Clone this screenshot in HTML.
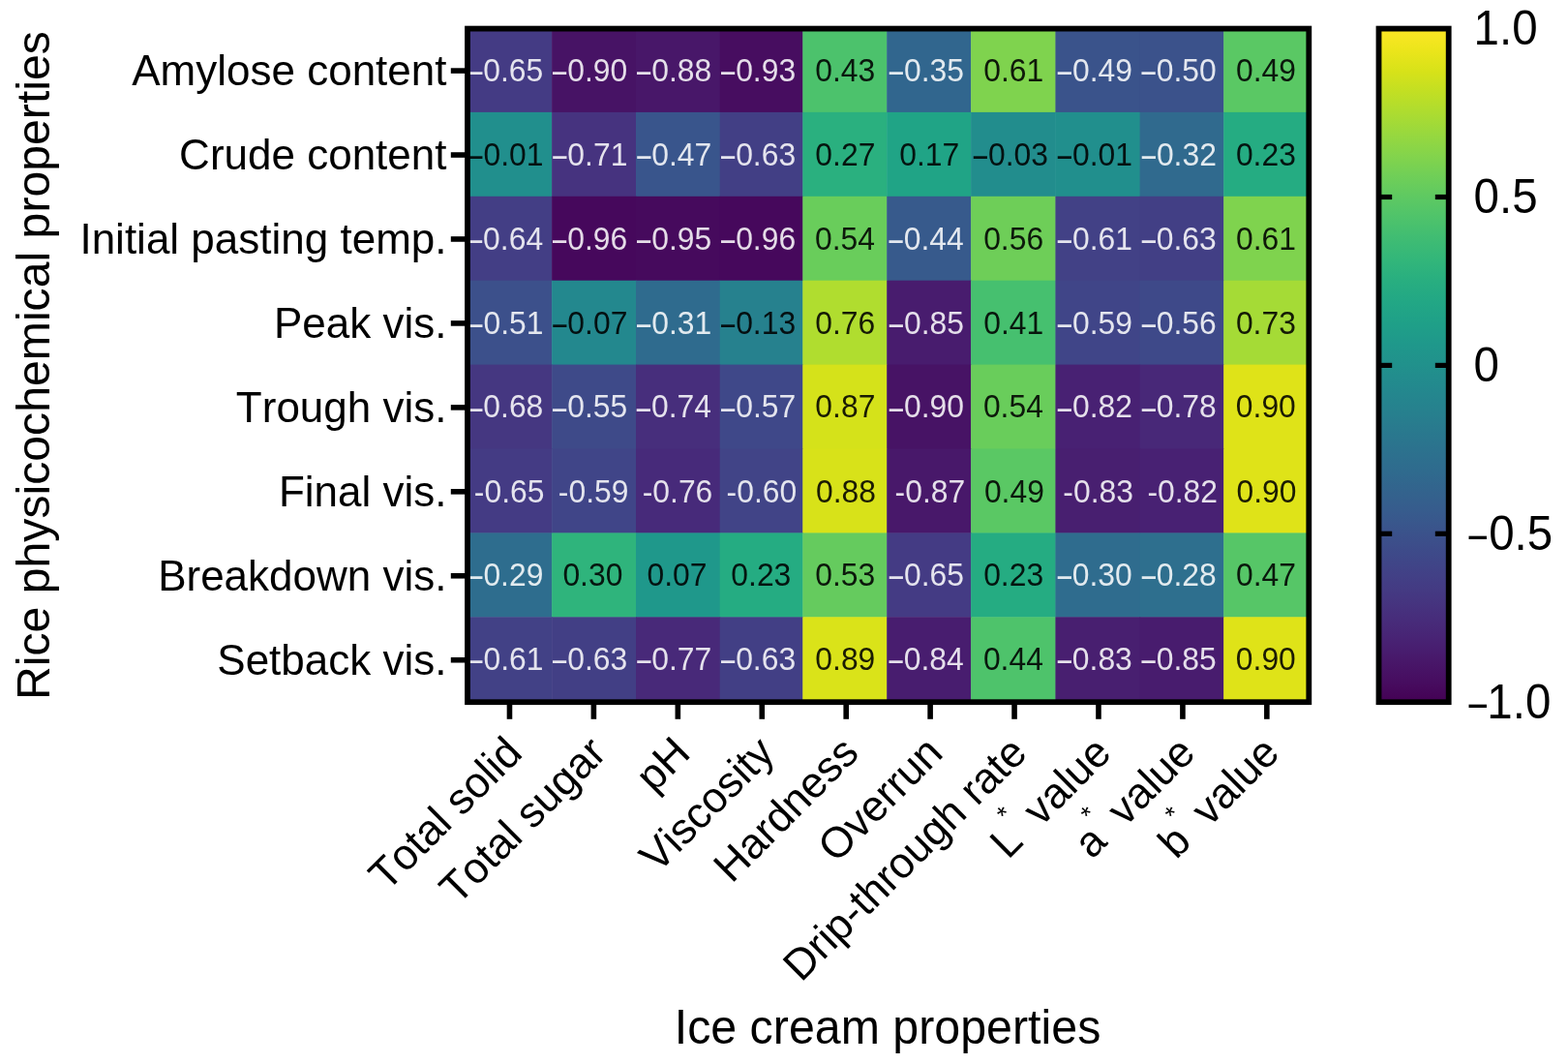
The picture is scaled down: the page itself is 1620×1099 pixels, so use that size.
<!DOCTYPE html>
<html><head><meta charset="utf-8"><title>Heatmap</title>
<style>html,body{margin:0;padding:0;background:#fff;overflow:hidden;}svg{display:block;}text{font-kerning:none;}</style>
</head><body>
<svg width="1620" height="1099" viewBox="0 0 1620 1099">
<defs><linearGradient id="vg" x1="0" y1="1" x2="0" y2="0">
<stop offset="0.0000" stop-color="#440154"/>
<stop offset="0.0312" stop-color="#470d60"/>
<stop offset="0.0625" stop-color="#48186a"/>
<stop offset="0.0938" stop-color="#482374"/>
<stop offset="0.1250" stop-color="#472d7b"/>
<stop offset="0.1562" stop-color="#453781"/>
<stop offset="0.1875" stop-color="#424086"/>
<stop offset="0.2188" stop-color="#3e4989"/>
<stop offset="0.2500" stop-color="#3b528b"/>
<stop offset="0.2812" stop-color="#375b8d"/>
<stop offset="0.3125" stop-color="#33638d"/>
<stop offset="0.3438" stop-color="#2f6b8e"/>
<stop offset="0.3750" stop-color="#2c728e"/>
<stop offset="0.4062" stop-color="#297a8e"/>
<stop offset="0.4375" stop-color="#26828e"/>
<stop offset="0.4688" stop-color="#23898e"/>
<stop offset="0.5000" stop-color="#21918c"/>
<stop offset="0.5312" stop-color="#1f988b"/>
<stop offset="0.5625" stop-color="#1fa088"/>
<stop offset="0.5938" stop-color="#22a785"/>
<stop offset="0.6250" stop-color="#28ae80"/>
<stop offset="0.6562" stop-color="#32b67a"/>
<stop offset="0.6875" stop-color="#3fbc73"/>
<stop offset="0.7188" stop-color="#4ec36b"/>
<stop offset="0.7500" stop-color="#5ec962"/>
<stop offset="0.7812" stop-color="#70cf57"/>
<stop offset="0.8125" stop-color="#84d44b"/>
<stop offset="0.8438" stop-color="#98d83e"/>
<stop offset="0.8750" stop-color="#addc30"/>
<stop offset="0.9062" stop-color="#c2df23"/>
<stop offset="0.9375" stop-color="#d8e219"/>
<stop offset="0.9688" stop-color="#ece51b"/>
<stop offset="1.0000" stop-color="#fde725"/>
</linearGradient></defs>
<rect width="1620" height="1099" fill="#fff"/>
<rect x="483.00" y="29.60" width="87.60" height="86.80" fill="#443b84"/>
<rect x="570.10" y="29.60" width="87.40" height="86.80" fill="#471365"/>
<rect x="657.00" y="29.60" width="87.20" height="86.80" fill="#481769"/>
<rect x="743.70" y="29.60" width="86.10" height="86.80" fill="#470d60"/>
<rect x="829.30" y="29.60" width="87.40" height="86.80" fill="#4cc26c"/>
<rect x="916.20" y="29.60" width="87.40" height="86.80" fill="#31668e"/>
<rect x="1003.10" y="29.60" width="87.80" height="86.80" fill="#7fd34e"/>
<rect x="1090.40" y="29.60" width="87.70" height="86.80" fill="#3a538b"/>
<rect x="1177.60" y="29.60" width="87.10" height="86.80" fill="#3b528b"/>
<rect x="1264.20" y="29.60" width="88.60" height="86.80" fill="#5ac864"/>
<rect x="483.00" y="115.90" width="87.60" height="87.40" fill="#218f8d"/>
<rect x="570.10" y="115.90" width="87.40" height="87.40" fill="#46337f"/>
<rect x="657.00" y="115.90" width="87.20" height="87.40" fill="#39558c"/>
<rect x="743.70" y="115.90" width="86.10" height="87.40" fill="#423f85"/>
<rect x="829.30" y="115.90" width="87.40" height="87.40" fill="#2ab07f"/>
<rect x="916.20" y="115.90" width="87.40" height="87.40" fill="#20a486"/>
<rect x="1003.10" y="115.90" width="87.80" height="87.40" fill="#228d8d"/>
<rect x="1090.40" y="115.90" width="87.70" height="87.40" fill="#218f8d"/>
<rect x="1177.60" y="115.90" width="87.10" height="87.40" fill="#306a8e"/>
<rect x="1264.20" y="115.90" width="88.60" height="87.40" fill="#25ac82"/>
<rect x="483.00" y="202.80" width="87.60" height="87.40" fill="#433e85"/>
<rect x="570.10" y="202.80" width="87.40" height="87.40" fill="#46085c"/>
<rect x="657.00" y="202.80" width="87.20" height="87.40" fill="#460a5d"/>
<rect x="743.70" y="202.80" width="86.10" height="87.40" fill="#46085c"/>
<rect x="829.30" y="202.80" width="87.40" height="87.40" fill="#69cd5b"/>
<rect x="916.20" y="202.80" width="87.40" height="87.40" fill="#375a8c"/>
<rect x="1003.10" y="202.80" width="87.80" height="87.40" fill="#6ece58"/>
<rect x="1090.40" y="202.80" width="87.70" height="87.40" fill="#424186"/>
<rect x="1177.60" y="202.80" width="87.10" height="87.40" fill="#423f85"/>
<rect x="1264.20" y="202.80" width="88.60" height="87.40" fill="#7fd34e"/>
<rect x="483.00" y="289.70" width="87.60" height="87.40" fill="#3c508b"/>
<rect x="570.10" y="289.70" width="87.40" height="87.40" fill="#23888e"/>
<rect x="657.00" y="289.70" width="87.20" height="87.40" fill="#2f6b8e"/>
<rect x="743.70" y="289.70" width="86.10" height="87.40" fill="#26818e"/>
<rect x="829.30" y="289.70" width="87.40" height="87.40" fill="#b0dd2f"/>
<rect x="916.20" y="289.70" width="87.40" height="87.40" fill="#481c6e"/>
<rect x="1003.10" y="289.70" width="87.80" height="87.40" fill="#46c06f"/>
<rect x="1090.40" y="289.70" width="87.70" height="87.40" fill="#404588"/>
<rect x="1177.60" y="289.70" width="87.10" height="87.40" fill="#3e4989"/>
<rect x="1264.20" y="289.70" width="88.60" height="87.40" fill="#a5db36"/>
<rect x="483.00" y="376.60" width="87.60" height="87.40" fill="#453781"/>
<rect x="570.10" y="376.60" width="87.40" height="87.40" fill="#3e4a89"/>
<rect x="657.00" y="376.60" width="87.20" height="87.40" fill="#472e7c"/>
<rect x="743.70" y="376.60" width="86.10" height="87.40" fill="#3f4889"/>
<rect x="829.30" y="376.60" width="87.40" height="87.40" fill="#d5e21a"/>
<rect x="916.20" y="376.60" width="87.40" height="87.40" fill="#471365"/>
<rect x="1003.10" y="376.60" width="87.80" height="87.40" fill="#69cd5b"/>
<rect x="1090.40" y="376.60" width="87.70" height="87.40" fill="#482173"/>
<rect x="1177.60" y="376.60" width="87.10" height="87.40" fill="#482878"/>
<rect x="1264.20" y="376.60" width="88.60" height="87.40" fill="#dfe318"/>
<rect x="483.00" y="463.50" width="87.60" height="87.40" fill="#443b84"/>
<rect x="570.10" y="463.50" width="87.40" height="87.40" fill="#404588"/>
<rect x="657.00" y="463.50" width="87.20" height="87.40" fill="#472a7a"/>
<rect x="743.70" y="463.50" width="86.10" height="87.40" fill="#414487"/>
<rect x="829.30" y="463.50" width="87.40" height="87.40" fill="#d8e219"/>
<rect x="916.20" y="463.50" width="87.40" height="87.40" fill="#48186a"/>
<rect x="1003.10" y="463.50" width="87.80" height="87.40" fill="#5ac864"/>
<rect x="1090.40" y="463.50" width="87.70" height="87.40" fill="#481f70"/>
<rect x="1177.60" y="463.50" width="87.10" height="87.40" fill="#482173"/>
<rect x="1264.20" y="463.50" width="88.60" height="87.40" fill="#dfe318"/>
<rect x="483.00" y="550.40" width="87.60" height="87.40" fill="#2e6d8e"/>
<rect x="570.10" y="550.40" width="87.40" height="87.40" fill="#2fb47c"/>
<rect x="657.00" y="550.40" width="87.20" height="87.40" fill="#1f988b"/>
<rect x="743.70" y="550.40" width="86.10" height="87.40" fill="#25ac82"/>
<rect x="829.30" y="550.40" width="87.40" height="87.40" fill="#65cb5e"/>
<rect x="916.20" y="550.40" width="87.40" height="87.40" fill="#443b84"/>
<rect x="1003.10" y="550.40" width="87.80" height="87.40" fill="#25ac82"/>
<rect x="1090.40" y="550.40" width="87.70" height="87.40" fill="#2f6c8e"/>
<rect x="1177.60" y="550.40" width="87.10" height="87.40" fill="#2e6f8e"/>
<rect x="1264.20" y="550.40" width="88.60" height="87.40" fill="#56c667"/>
<rect x="483.00" y="637.30" width="87.60" height="88.40" fill="#424186"/>
<rect x="570.10" y="637.30" width="87.40" height="88.40" fill="#423f85"/>
<rect x="657.00" y="637.30" width="87.20" height="88.40" fill="#482979"/>
<rect x="743.70" y="637.30" width="86.10" height="88.40" fill="#423f85"/>
<rect x="829.30" y="637.30" width="87.40" height="88.40" fill="#dae319"/>
<rect x="916.20" y="637.30" width="87.40" height="88.40" fill="#481d6f"/>
<rect x="1003.10" y="637.30" width="87.80" height="88.40" fill="#4ec36b"/>
<rect x="1090.40" y="637.30" width="87.70" height="88.40" fill="#481f70"/>
<rect x="1177.60" y="637.30" width="87.10" height="88.40" fill="#481c6e"/>
<rect x="1264.20" y="637.30" width="88.60" height="88.40" fill="#dfe318"/>
<g font-family="Liberation Sans, Arial, sans-serif">
<text transform="translate(0,83.98) scale(1,1.030)" fill="#e5e4ee" font-size="33.00"><tspan x="484.17" dy="2.3" font-size="40" textLength="14.20" lengthAdjust="spacingAndGlyphs">–</tspan><tspan x="499.32" dy="-2.3" textLength="61.98" lengthAdjust="spacingAndGlyphs">0.65</tspan></text>
<text transform="translate(0,83.98) scale(1,1.030)" fill="#e5dee9" font-size="33.00"><tspan x="571.05" dy="2.3" font-size="40" textLength="14.20" lengthAdjust="spacingAndGlyphs">–</tspan><tspan x="586.21" dy="-2.3" textLength="61.98" lengthAdjust="spacingAndGlyphs">0.90</tspan></text>
<text transform="translate(0,83.98) scale(1,1.030)" fill="#e5dfea" font-size="33.00"><tspan x="658.05" dy="2.3" font-size="40" textLength="14.20" lengthAdjust="spacingAndGlyphs">–</tspan><tspan x="673.21" dy="-2.3" textLength="61.98" lengthAdjust="spacingAndGlyphs">0.88</tspan></text>
<text transform="translate(0,83.98) scale(1,1.030)" fill="#e5dde9" font-size="33.00"><tspan x="744.99" dy="2.3" font-size="40" textLength="14.20" lengthAdjust="spacingAndGlyphs">–</tspan><tspan x="760.14" dy="-2.3" textLength="61.98" lengthAdjust="spacingAndGlyphs">0.93</tspan></text>
<text transform="translate(0,83.98) scale(1,1.030)" fill="#09170d" font-size="33.00"><tspan x="842.27" textLength="61.98" lengthAdjust="spacingAndGlyphs">0.43</tspan></text>
<text transform="translate(0,83.98) scale(1,1.030)" fill="#e2eaef" font-size="33.00"><tspan x="918.82" dy="2.3" font-size="40" textLength="14.20" lengthAdjust="spacingAndGlyphs">–</tspan><tspan x="933.97" dy="-2.3" textLength="61.98" lengthAdjust="spacingAndGlyphs">0.35</tspan></text>
<text transform="translate(0,83.98) scale(1,1.030)" fill="#0f1909" font-size="33.00"><tspan x="1016.21" textLength="61.98" lengthAdjust="spacingAndGlyphs">0.61</tspan></text>
<text transform="translate(0,83.98) scale(1,1.030)" fill="#e3e7ef" font-size="33.00"><tspan x="1092.76" dy="2.3" font-size="40" textLength="14.20" lengthAdjust="spacingAndGlyphs">–</tspan><tspan x="1107.92" dy="-2.3" textLength="61.98" lengthAdjust="spacingAndGlyphs">0.49</tspan></text>
<text transform="translate(0,83.98) scale(1,1.030)" fill="#e4e7ef" font-size="33.00"><tspan x="1179.56" dy="2.3" font-size="40" textLength="14.20" lengthAdjust="spacingAndGlyphs">–</tspan><tspan x="1194.72" dy="-2.3" textLength="61.98" lengthAdjust="spacingAndGlyphs">0.50</tspan></text>
<text transform="translate(0,83.98) scale(1,1.030)" fill="#0b180c" font-size="33.00"><tspan x="1276.98" textLength="61.98" lengthAdjust="spacingAndGlyphs">0.49</tspan></text>
<text transform="translate(0,170.83) scale(1,1.030)" fill="#041111" font-size="33.00"><tspan x="484.27" dy="2.3" font-size="40" textLength="14.20" lengthAdjust="spacingAndGlyphs">–</tspan><tspan x="499.43" dy="-2.3" textLength="61.98" lengthAdjust="spacingAndGlyphs">0.01</tspan></text>
<text transform="translate(0,170.83) scale(1,1.030)" fill="#e5e2ed" font-size="33.00"><tspan x="571.20" dy="2.3" font-size="40" textLength="14.20" lengthAdjust="spacingAndGlyphs">–</tspan><tspan x="586.36" dy="-2.3" textLength="61.98" lengthAdjust="spacingAndGlyphs">0.71</tspan></text>
<text transform="translate(0,170.83) scale(1,1.030)" fill="#e3e7ef" font-size="33.00"><tspan x="658.16" dy="2.3" font-size="40" textLength="14.20" lengthAdjust="spacingAndGlyphs">–</tspan><tspan x="673.31" dy="-2.3" textLength="61.98" lengthAdjust="spacingAndGlyphs">0.47</tspan></text>
<text transform="translate(0,170.83) scale(1,1.030)" fill="#e5e4ee" font-size="33.00"><tspan x="744.99" dy="2.3" font-size="40" textLength="14.20" lengthAdjust="spacingAndGlyphs">–</tspan><tspan x="760.14" dy="-2.3" textLength="61.98" lengthAdjust="spacingAndGlyphs">0.63</tspan></text>
<text transform="translate(0,170.83) scale(1,1.030)" fill="#05150f" font-size="33.00"><tspan x="842.37" textLength="61.98" lengthAdjust="spacingAndGlyphs">0.27</tspan></text>
<text transform="translate(0,170.83) scale(1,1.030)" fill="#041410" font-size="33.00"><tspan x="929.30" textLength="61.98" lengthAdjust="spacingAndGlyphs">0.17</tspan></text>
<text transform="translate(0,170.83) scale(1,1.030)" fill="#041111" font-size="33.00"><tspan x="1005.78" dy="2.3" font-size="40" textLength="14.20" lengthAdjust="spacingAndGlyphs">–</tspan><tspan x="1020.93" dy="-2.3" textLength="61.98" lengthAdjust="spacingAndGlyphs">0.03</tspan></text>
<text transform="translate(0,170.83) scale(1,1.030)" fill="#041111" font-size="33.00"><tspan x="1092.78" dy="2.3" font-size="40" textLength="14.20" lengthAdjust="spacingAndGlyphs">–</tspan><tspan x="1107.94" dy="-2.3" textLength="61.98" lengthAdjust="spacingAndGlyphs">0.01</tspan></text>
<text transform="translate(0,170.83) scale(1,1.030)" fill="#e2eaef" font-size="33.00"><tspan x="1179.74" dy="2.3" font-size="40" textLength="14.20" lengthAdjust="spacingAndGlyphs">–</tspan><tspan x="1194.89" dy="-2.3" textLength="61.98" lengthAdjust="spacingAndGlyphs">0.32</tspan></text>
<text transform="translate(0,170.83) scale(1,1.030)" fill="#041510" font-size="33.00"><tspan x="1276.92" textLength="61.98" lengthAdjust="spacingAndGlyphs">0.23</tspan></text>
<text transform="translate(0,257.68) scale(1,1.030)" fill="#e5e4ee" font-size="33.00"><tspan x="483.96" dy="2.3" font-size="40" textLength="14.20" lengthAdjust="spacingAndGlyphs">–</tspan><tspan x="499.12" dy="-2.3" textLength="61.98" lengthAdjust="spacingAndGlyphs">0.64</tspan></text>
<text transform="translate(0,257.68) scale(1,1.030)" fill="#e5dce8" font-size="33.00"><tspan x="571.13" dy="2.3" font-size="40" textLength="14.20" lengthAdjust="spacingAndGlyphs">–</tspan><tspan x="586.28" dy="-2.3" textLength="61.98" lengthAdjust="spacingAndGlyphs">0.96</tspan></text>
<text transform="translate(0,257.68) scale(1,1.030)" fill="#e5dde8" font-size="33.00"><tspan x="658.03" dy="2.3" font-size="40" textLength="14.20" lengthAdjust="spacingAndGlyphs">–</tspan><tspan x="673.18" dy="-2.3" textLength="61.98" lengthAdjust="spacingAndGlyphs">0.95</tspan></text>
<text transform="translate(0,257.68) scale(1,1.030)" fill="#e5dce8" font-size="33.00"><tspan x="744.99" dy="2.3" font-size="40" textLength="14.20" lengthAdjust="spacingAndGlyphs">–</tspan><tspan x="760.14" dy="-2.3" textLength="61.98" lengthAdjust="spacingAndGlyphs">0.96</tspan></text>
<text transform="translate(0,257.68) scale(1,1.030)" fill="#0d190b" font-size="33.00"><tspan x="842.04" textLength="61.98" lengthAdjust="spacingAndGlyphs">0.54</tspan></text>
<text transform="translate(0,257.68) scale(1,1.030)" fill="#e3e8ef" font-size="33.00"><tspan x="918.61" dy="2.3" font-size="40" textLength="14.20" lengthAdjust="spacingAndGlyphs">–</tspan><tspan x="933.77" dy="-2.3" textLength="61.98" lengthAdjust="spacingAndGlyphs">0.44</tspan></text>
<text transform="translate(0,257.68) scale(1,1.030)" fill="#0d190b" font-size="33.00"><tspan x="1016.13" textLength="61.98" lengthAdjust="spacingAndGlyphs">0.56</tspan></text>
<text transform="translate(0,257.68) scale(1,1.030)" fill="#e4e4ee" font-size="33.00"><tspan x="1092.78" dy="2.3" font-size="40" textLength="14.20" lengthAdjust="spacingAndGlyphs">–</tspan><tspan x="1107.94" dy="-2.3" textLength="61.98" lengthAdjust="spacingAndGlyphs">0.61</tspan></text>
<text transform="translate(0,257.68) scale(1,1.030)" fill="#e5e4ee" font-size="33.00"><tspan x="1179.64" dy="2.3" font-size="40" textLength="14.20" lengthAdjust="spacingAndGlyphs">–</tspan><tspan x="1194.79" dy="-2.3" textLength="61.98" lengthAdjust="spacingAndGlyphs">0.63</tspan></text>
<text transform="translate(0,257.68) scale(1,1.030)" fill="#0f1909" font-size="33.00"><tspan x="1277.00" textLength="61.98" lengthAdjust="spacingAndGlyphs">0.61</tspan></text>
<text transform="translate(0,344.52) scale(1,1.030)" fill="#e4e7ef" font-size="33.00"><tspan x="484.27" dy="2.3" font-size="40" textLength="14.20" lengthAdjust="spacingAndGlyphs">–</tspan><tspan x="499.43" dy="-2.3" textLength="61.98" lengthAdjust="spacingAndGlyphs">0.51</tspan></text>
<text transform="translate(0,344.52) scale(1,1.030)" fill="#041011" font-size="33.00"><tspan x="571.23" dy="2.3" font-size="40" textLength="14.20" lengthAdjust="spacingAndGlyphs">–</tspan><tspan x="586.38" dy="-2.3" textLength="61.98" lengthAdjust="spacingAndGlyphs">0.07</tspan></text>
<text transform="translate(0,344.52) scale(1,1.030)" fill="#e2eaef" font-size="33.00"><tspan x="658.13" dy="2.3" font-size="40" textLength="14.20" lengthAdjust="spacingAndGlyphs">–</tspan><tspan x="673.29" dy="-2.3" textLength="61.98" lengthAdjust="spacingAndGlyphs">0.31</tspan></text>
<text transform="translate(0,344.52) scale(1,1.030)" fill="#050f11" font-size="33.00"><tspan x="744.99" dy="2.3" font-size="40" textLength="14.20" lengthAdjust="spacingAndGlyphs">–</tspan><tspan x="760.14" dy="-2.3" textLength="61.98" lengthAdjust="spacingAndGlyphs">0.13</tspan></text>
<text transform="translate(0,344.52) scale(1,1.030)" fill="#151a06" font-size="33.00"><tspan x="842.27" textLength="61.98" lengthAdjust="spacingAndGlyphs">0.76</tspan></text>
<text transform="translate(0,344.52) scale(1,1.030)" fill="#e5dfeb" font-size="33.00"><tspan x="918.82" dy="2.3" font-size="40" textLength="14.20" lengthAdjust="spacingAndGlyphs">–</tspan><tspan x="933.97" dy="-2.3" textLength="61.98" lengthAdjust="spacingAndGlyphs">0.85</tspan></text>
<text transform="translate(0,344.52) scale(1,1.030)" fill="#08170d" font-size="33.00"><tspan x="1016.21" textLength="61.98" lengthAdjust="spacingAndGlyphs">0.41</tspan></text>
<text transform="translate(0,344.52) scale(1,1.030)" fill="#e4e5ee" font-size="33.00"><tspan x="1092.76" dy="2.3" font-size="40" textLength="14.20" lengthAdjust="spacingAndGlyphs">–</tspan><tspan x="1107.92" dy="-2.3" textLength="61.98" lengthAdjust="spacingAndGlyphs">0.59</tspan></text>
<text transform="translate(0,344.52) scale(1,1.030)" fill="#e4e6ee" font-size="33.00"><tspan x="1179.64" dy="2.3" font-size="40" textLength="14.20" lengthAdjust="spacingAndGlyphs">–</tspan><tspan x="1194.79" dy="-2.3" textLength="61.98" lengthAdjust="spacingAndGlyphs">0.56</tspan></text>
<text transform="translate(0,344.52) scale(1,1.030)" fill="#141a06" font-size="33.00"><tspan x="1276.92" textLength="61.98" lengthAdjust="spacingAndGlyphs">0.73</tspan></text>
<text transform="translate(0,431.38) scale(1,1.030)" fill="#e5e3ed" font-size="33.00"><tspan x="484.19" dy="2.3" font-size="40" textLength="14.20" lengthAdjust="spacingAndGlyphs">–</tspan><tspan x="499.35" dy="-2.3" textLength="61.98" lengthAdjust="spacingAndGlyphs">0.68</tspan></text>
<text transform="translate(0,431.38) scale(1,1.030)" fill="#e4e6ef" font-size="33.00"><tspan x="571.10" dy="2.3" font-size="40" textLength="14.20" lengthAdjust="spacingAndGlyphs">–</tspan><tspan x="586.25" dy="-2.3" textLength="61.98" lengthAdjust="spacingAndGlyphs">0.55</tspan></text>
<text transform="translate(0,431.38) scale(1,1.030)" fill="#e5e2ed" font-size="33.00"><tspan x="657.82" dy="2.3" font-size="40" textLength="14.20" lengthAdjust="spacingAndGlyphs">–</tspan><tspan x="672.98" dy="-2.3" textLength="61.98" lengthAdjust="spacingAndGlyphs">0.74</tspan></text>
<text transform="translate(0,431.38) scale(1,1.030)" fill="#e4e5ee" font-size="33.00"><tspan x="745.09" dy="2.3" font-size="40" textLength="14.20" lengthAdjust="spacingAndGlyphs">–</tspan><tspan x="760.24" dy="-2.3" textLength="61.98" lengthAdjust="spacingAndGlyphs">0.57</tspan></text>
<text transform="translate(0,431.38) scale(1,1.030)" fill="#1a1b03" font-size="33.00"><tspan x="842.37" textLength="61.98" lengthAdjust="spacingAndGlyphs">0.87</tspan></text>
<text transform="translate(0,431.38) scale(1,1.030)" fill="#e5dee9" font-size="33.00"><tspan x="918.77" dy="2.3" font-size="40" textLength="14.20" lengthAdjust="spacingAndGlyphs">–</tspan><tspan x="933.93" dy="-2.3" textLength="61.98" lengthAdjust="spacingAndGlyphs">0.90</tspan></text>
<text transform="translate(0,431.38) scale(1,1.030)" fill="#0d190b" font-size="33.00"><tspan x="1015.90" textLength="61.98" lengthAdjust="spacingAndGlyphs">0.54</tspan></text>
<text transform="translate(0,431.38) scale(1,1.030)" fill="#e5e0eb" font-size="33.00"><tspan x="1092.81" dy="2.3" font-size="40" textLength="14.20" lengthAdjust="spacingAndGlyphs">–</tspan><tspan x="1107.96" dy="-2.3" textLength="61.98" lengthAdjust="spacingAndGlyphs">0.82</tspan></text>
<text transform="translate(0,431.38) scale(1,1.030)" fill="#e5e1ec" font-size="33.00"><tspan x="1179.63" dy="2.3" font-size="40" textLength="14.20" lengthAdjust="spacingAndGlyphs">–</tspan><tspan x="1194.79" dy="-2.3" textLength="61.98" lengthAdjust="spacingAndGlyphs">0.78</tspan></text>
<text transform="translate(0,431.38) scale(1,1.030)" fill="#1b1b03" font-size="33.00"><tspan x="1276.85" textLength="61.98" lengthAdjust="spacingAndGlyphs">0.90</tspan></text>
<text transform="translate(0,518.93) scale(1,1.030)" fill="#e5e4ee" font-size="33.00"><tspan x="489.83" dy="1.5" textLength="10.60" lengthAdjust="spacingAndGlyphs">-</tspan><tspan x="500.44" dy="-1.5" textLength="61.98" lengthAdjust="spacingAndGlyphs">0.65</tspan></text>
<text transform="translate(0,518.93) scale(1,1.030)" fill="#e4e5ee" font-size="33.00"><tspan x="576.85" dy="1.5" textLength="10.60" lengthAdjust="spacingAndGlyphs">-</tspan><tspan x="587.45" dy="-1.5" textLength="61.98" lengthAdjust="spacingAndGlyphs">0.59</tspan></text>
<text transform="translate(0,518.93) scale(1,1.030)" fill="#e5e1ec" font-size="33.00"><tspan x="663.73" dy="1.5" textLength="10.60" lengthAdjust="spacingAndGlyphs">-</tspan><tspan x="674.33" dy="-1.5" textLength="61.98" lengthAdjust="spacingAndGlyphs">0.76</tspan></text>
<text transform="translate(0,518.93) scale(1,1.030)" fill="#e4e5ee" font-size="33.00"><tspan x="750.58" dy="1.5" textLength="10.60" lengthAdjust="spacingAndGlyphs">-</tspan><tspan x="761.18" dy="-1.5" textLength="61.98" lengthAdjust="spacingAndGlyphs">0.60</tspan></text>
<text transform="translate(0,518.93) scale(1,1.030)" fill="#1a1b03" font-size="33.00"><tspan x="842.97" textLength="61.98" lengthAdjust="spacingAndGlyphs">0.88</tspan></text>
<text transform="translate(0,518.93) scale(1,1.030)" fill="#e5dfea" font-size="33.00"><tspan x="924.62" dy="1.5" textLength="10.60" lengthAdjust="spacingAndGlyphs">-</tspan><tspan x="935.22" dy="-1.5" textLength="61.98" lengthAdjust="spacingAndGlyphs">0.87</tspan></text>
<text transform="translate(0,518.93) scale(1,1.030)" fill="#0b180c" font-size="33.00"><tspan x="1016.89" textLength="61.98" lengthAdjust="spacingAndGlyphs">0.49</tspan></text>
<text transform="translate(0,518.93) scale(1,1.030)" fill="#e5e0eb" font-size="33.00"><tspan x="1098.38" dy="1.5" textLength="10.60" lengthAdjust="spacingAndGlyphs">-</tspan><tspan x="1108.98" dy="-1.5" textLength="61.98" lengthAdjust="spacingAndGlyphs">0.83</tspan></text>
<text transform="translate(0,518.93) scale(1,1.030)" fill="#e5e0eb" font-size="33.00"><tspan x="1185.41" dy="1.5" textLength="10.60" lengthAdjust="spacingAndGlyphs">-</tspan><tspan x="1196.01" dy="-1.5" textLength="61.98" lengthAdjust="spacingAndGlyphs">0.82</tspan></text>
<text transform="translate(0,518.93) scale(1,1.030)" fill="#1b1b03" font-size="33.00"><tspan x="1277.55" textLength="61.98" lengthAdjust="spacingAndGlyphs">0.90</tspan></text>
<text transform="translate(0,605.08) scale(1,1.030)" fill="#e2ebef" font-size="33.00"><tspan x="484.25" dy="2.3" font-size="40" textLength="14.20" lengthAdjust="spacingAndGlyphs">–</tspan><tspan x="499.41" dy="-2.3" textLength="61.98" lengthAdjust="spacingAndGlyphs">0.29</tspan></text>
<text transform="translate(0,605.08) scale(1,1.030)" fill="#06160f" font-size="33.00"><tspan x="581.41" textLength="61.98" lengthAdjust="spacingAndGlyphs">0.30</tspan></text>
<text transform="translate(0,605.08) scale(1,1.030)" fill="#041211" font-size="33.00"><tspan x="668.51" textLength="61.98" lengthAdjust="spacingAndGlyphs">0.07</tspan></text>
<text transform="translate(0,605.08) scale(1,1.030)" fill="#041510" font-size="33.00"><tspan x="755.34" textLength="61.98" lengthAdjust="spacingAndGlyphs">0.23</tspan></text>
<text transform="translate(0,605.08) scale(1,1.030)" fill="#0c180b" font-size="33.00"><tspan x="842.27" textLength="61.98" lengthAdjust="spacingAndGlyphs">0.53</tspan></text>
<text transform="translate(0,605.08) scale(1,1.030)" fill="#e5e4ee" font-size="33.00"><tspan x="918.82" dy="2.3" font-size="40" textLength="14.20" lengthAdjust="spacingAndGlyphs">–</tspan><tspan x="933.97" dy="-2.3" textLength="61.98" lengthAdjust="spacingAndGlyphs">0.65</tspan></text>
<text transform="translate(0,605.08) scale(1,1.030)" fill="#041510" font-size="33.00"><tspan x="1016.13" textLength="61.98" lengthAdjust="spacingAndGlyphs">0.23</tspan></text>
<text transform="translate(0,605.08) scale(1,1.030)" fill="#e2eaef" font-size="33.00"><tspan x="1092.63" dy="2.3" font-size="40" textLength="14.20" lengthAdjust="spacingAndGlyphs">–</tspan><tspan x="1107.79" dy="-2.3" textLength="61.98" lengthAdjust="spacingAndGlyphs">0.30</tspan></text>
<text transform="translate(0,605.08) scale(1,1.030)" fill="#e2ebef" font-size="33.00"><tspan x="1179.63" dy="2.3" font-size="40" textLength="14.20" lengthAdjust="spacingAndGlyphs">–</tspan><tspan x="1194.79" dy="-2.3" textLength="61.98" lengthAdjust="spacingAndGlyphs">0.28</tspan></text>
<text transform="translate(0,605.08) scale(1,1.030)" fill="#0a180c" font-size="33.00"><tspan x="1277.02" textLength="61.98" lengthAdjust="spacingAndGlyphs">0.47</tspan></text>
<text transform="translate(0,691.92) scale(1,1.030)" fill="#e4e4ee" font-size="33.00"><tspan x="484.27" dy="2.3" font-size="40" textLength="14.20" lengthAdjust="spacingAndGlyphs">–</tspan><tspan x="499.43" dy="-2.3" textLength="61.98" lengthAdjust="spacingAndGlyphs">0.61</tspan></text>
<text transform="translate(0,691.92) scale(1,1.030)" fill="#e5e4ee" font-size="33.00"><tspan x="571.13" dy="2.3" font-size="40" textLength="14.20" lengthAdjust="spacingAndGlyphs">–</tspan><tspan x="586.28" dy="-2.3" textLength="61.98" lengthAdjust="spacingAndGlyphs">0.63</tspan></text>
<text transform="translate(0,691.92) scale(1,1.030)" fill="#e5e1ec" font-size="33.00"><tspan x="658.16" dy="2.3" font-size="40" textLength="14.20" lengthAdjust="spacingAndGlyphs">–</tspan><tspan x="673.31" dy="-2.3" textLength="61.98" lengthAdjust="spacingAndGlyphs">0.77</tspan></text>
<text transform="translate(0,691.92) scale(1,1.030)" fill="#e5e4ee" font-size="33.00"><tspan x="744.99" dy="2.3" font-size="40" textLength="14.20" lengthAdjust="spacingAndGlyphs">–</tspan><tspan x="760.14" dy="-2.3" textLength="61.98" lengthAdjust="spacingAndGlyphs">0.63</tspan></text>
<text transform="translate(0,691.92) scale(1,1.030)" fill="#1a1b03" font-size="33.00"><tspan x="842.33" textLength="61.98" lengthAdjust="spacingAndGlyphs">0.89</tspan></text>
<text transform="translate(0,691.92) scale(1,1.030)" fill="#e5dfeb" font-size="33.00"><tspan x="918.61" dy="2.3" font-size="40" textLength="14.20" lengthAdjust="spacingAndGlyphs">–</tspan><tspan x="933.77" dy="-2.3" textLength="61.98" lengthAdjust="spacingAndGlyphs">0.84</tspan></text>
<text transform="translate(0,691.92) scale(1,1.030)" fill="#09170d" font-size="33.00"><tspan x="1015.90" textLength="61.98" lengthAdjust="spacingAndGlyphs">0.44</tspan></text>
<text transform="translate(0,691.92) scale(1,1.030)" fill="#e5e0eb" font-size="33.00"><tspan x="1092.71" dy="2.3" font-size="40" textLength="14.20" lengthAdjust="spacingAndGlyphs">–</tspan><tspan x="1107.86" dy="-2.3" textLength="61.98" lengthAdjust="spacingAndGlyphs">0.83</tspan></text>
<text transform="translate(0,691.92) scale(1,1.030)" fill="#e5dfeb" font-size="33.00"><tspan x="1179.61" dy="2.3" font-size="40" textLength="14.20" lengthAdjust="spacingAndGlyphs">–</tspan><tspan x="1194.76" dy="-2.3" textLength="61.98" lengthAdjust="spacingAndGlyphs">0.85</tspan></text>
<text transform="translate(0,691.92) scale(1,1.030)" fill="#1b1b03" font-size="33.00"><tspan x="1276.85" textLength="61.98" lengthAdjust="spacingAndGlyphs">0.90</tspan></text>
</g>
<rect x="483.00" y="29.60" width="869.30" height="695.60" fill="none" stroke="#000" stroke-width="5.80"/>
<line x1="526.47" y1="725.20" x2="526.47" y2="742.80" stroke="#000" stroke-width="5.6"/>
<line x1="613.39" y1="725.20" x2="613.39" y2="742.80" stroke="#000" stroke-width="5.6"/>
<line x1="700.33" y1="725.20" x2="700.33" y2="742.80" stroke="#000" stroke-width="5.6"/>
<line x1="787.25" y1="725.20" x2="787.25" y2="742.80" stroke="#000" stroke-width="5.6"/>
<line x1="874.19" y1="725.20" x2="874.19" y2="742.80" stroke="#000" stroke-width="5.6"/>
<line x1="961.12" y1="725.20" x2="961.12" y2="742.80" stroke="#000" stroke-width="5.6"/>
<line x1="1048.05" y1="725.20" x2="1048.05" y2="742.80" stroke="#000" stroke-width="5.6"/>
<line x1="1134.97" y1="725.20" x2="1134.97" y2="742.80" stroke="#000" stroke-width="5.6"/>
<line x1="1221.91" y1="725.20" x2="1221.91" y2="742.80" stroke="#000" stroke-width="5.6"/>
<line x1="1308.84" y1="725.20" x2="1308.84" y2="742.80" stroke="#000" stroke-width="5.6"/>
<line x1="483.00" y1="73.08" x2="465.80" y2="73.08" stroke="#000" stroke-width="5.6"/>
<line x1="483.00" y1="160.03" x2="465.80" y2="160.03" stroke="#000" stroke-width="5.6"/>
<line x1="483.00" y1="246.97" x2="465.80" y2="246.97" stroke="#000" stroke-width="5.6"/>
<line x1="483.00" y1="333.93" x2="465.80" y2="333.93" stroke="#000" stroke-width="5.6"/>
<line x1="483.00" y1="420.88" x2="465.80" y2="420.88" stroke="#000" stroke-width="5.6"/>
<line x1="483.00" y1="507.83" x2="465.80" y2="507.83" stroke="#000" stroke-width="5.6"/>
<line x1="483.00" y1="594.78" x2="465.80" y2="594.78" stroke="#000" stroke-width="5.6"/>
<line x1="483.00" y1="681.73" x2="465.80" y2="681.73" stroke="#000" stroke-width="5.6"/>
<g font-family="Liberation Sans, Arial, sans-serif" font-size="44.0" text-anchor="end" fill="#000">
<text transform="translate(461.5,88.28) scale(1,1.015)">Amylose content</text>
<text transform="translate(461.5,175.22) scale(1,1.015)">Crude content</text>
<text transform="translate(461.5,262.18) scale(1,1.015)">Initial pasting temp.</text>
<text transform="translate(461.5,349.12) scale(1,1.015)">Peak vis.</text>
<text transform="translate(461.5,436.08) scale(1,1.015)">Trough vis.</text>
<text transform="translate(461.5,523.03) scale(1,1.015)">Final vis.</text>
<text transform="translate(461.5,609.98) scale(1,1.015)">Breakdown vis.</text>
<text transform="translate(461.5,696.93) scale(1,1.015)">Setback vis.</text>
</g>
<g font-family="Liberation Sans, Arial, sans-serif" font-size="44.0" text-anchor="end" fill="#000">
<text transform="translate(541.47,780.00) rotate(-45) scale(1,1.015)" x="0" y="0">Total solid</text>
<text transform="translate(628.39,780.00) rotate(-45) scale(1,1.015)" x="0" y="0">Total sugar</text>
<text transform="translate(715.33,780.00) rotate(-45) scale(1,1.015)" x="0" y="0">pH</text>
<text transform="translate(802.25,780.00) rotate(-45) scale(1,1.015)" x="0" y="0">Viscosity</text>
<text transform="translate(889.19,780.00) rotate(-45) scale(1,1.015)" x="0" y="0">Hardness</text>
<text transform="translate(976.12,780.00) rotate(-45) scale(1,1.015)" x="0" y="0">Overrun</text>
<text transform="translate(1063.05,780.00) rotate(-45) scale(1,1.015)" x="0" y="0">Drip-through rate</text>
<text transform="translate(1149.97,780.00) rotate(-45) scale(1,1.015)" x="0" y="0">L<tspan font-size="26.4" dx="1.4" dy="-26.5">*</tspan><tspan dy="26.5"> value</tspan></text>
<text transform="translate(1236.91,780.00) rotate(-45) scale(1,1.015)" x="0" y="0">a<tspan font-size="26.4" dx="1.4" dy="-26.5">*</tspan><tspan dy="26.5"> value</tspan></text>
<text transform="translate(1323.84,780.00) rotate(-45) scale(1,1.015)" x="0" y="0">b<tspan font-size="26.4" dx="1.4" dy="-26.5">*</tspan><tspan dy="26.5"> value</tspan></text>
</g>
<text transform="translate(917,1077.5) scale(1,1.015)" font-family="Liberation Sans, Arial, sans-serif" font-size="48.35" text-anchor="middle">Ice cream properties</text>
<text transform="translate(51.4,377.6) rotate(-90) scale(1,1.015)" font-family="Liberation Sans, Arial, sans-serif" font-size="48.2" text-anchor="middle">Rice physicochemical properties</text>
<rect x="1424.50" y="29.60" width="72.20" height="695.60" fill="url(#vg)" stroke="#000" stroke-width="5.80"/>
<g font-family="Liberation Sans, Arial, sans-serif" fill="#000">
<text transform="translate(1522.60,46.00) scale(1,1.035)" font-size="47.5">1.0</text>
<line x1="1424.50" y1="203.50" x2="1438.20" y2="203.50" stroke="#000" stroke-width="5.2"/>
<line x1="1482.80" y1="203.50" x2="1496.70" y2="203.50" stroke="#000" stroke-width="5.2"/>
<text transform="translate(1522.60,219.90) scale(1,1.035)" font-size="47.5">0.5</text>
<line x1="1424.50" y1="377.40" x2="1438.20" y2="377.40" stroke="#000" stroke-width="5.2"/>
<line x1="1482.80" y1="377.40" x2="1496.70" y2="377.40" stroke="#000" stroke-width="5.2"/>
<text transform="translate(1522.60,393.80) scale(1,1.035)" font-size="47.5">0</text>
<line x1="1424.50" y1="551.30" x2="1438.20" y2="551.30" stroke="#000" stroke-width="5.2"/>
<line x1="1482.80" y1="551.30" x2="1496.70" y2="551.30" stroke="#000" stroke-width="5.2"/>
<text transform="translate(0,567.70) scale(1,1.035)" font-size="47.5"><tspan x="1517.6" textLength="18.5" lengthAdjust="spacingAndGlyphs">–</tspan><tspan x="1538.14">0.5</tspan></text>
<text transform="translate(0,741.60) scale(1,1.035)" font-size="47.5"><tspan x="1517.6" textLength="18.5" lengthAdjust="spacingAndGlyphs">–</tspan><tspan x="1536.38">1.0</tspan></text>
</g>
</svg>
</body></html>
